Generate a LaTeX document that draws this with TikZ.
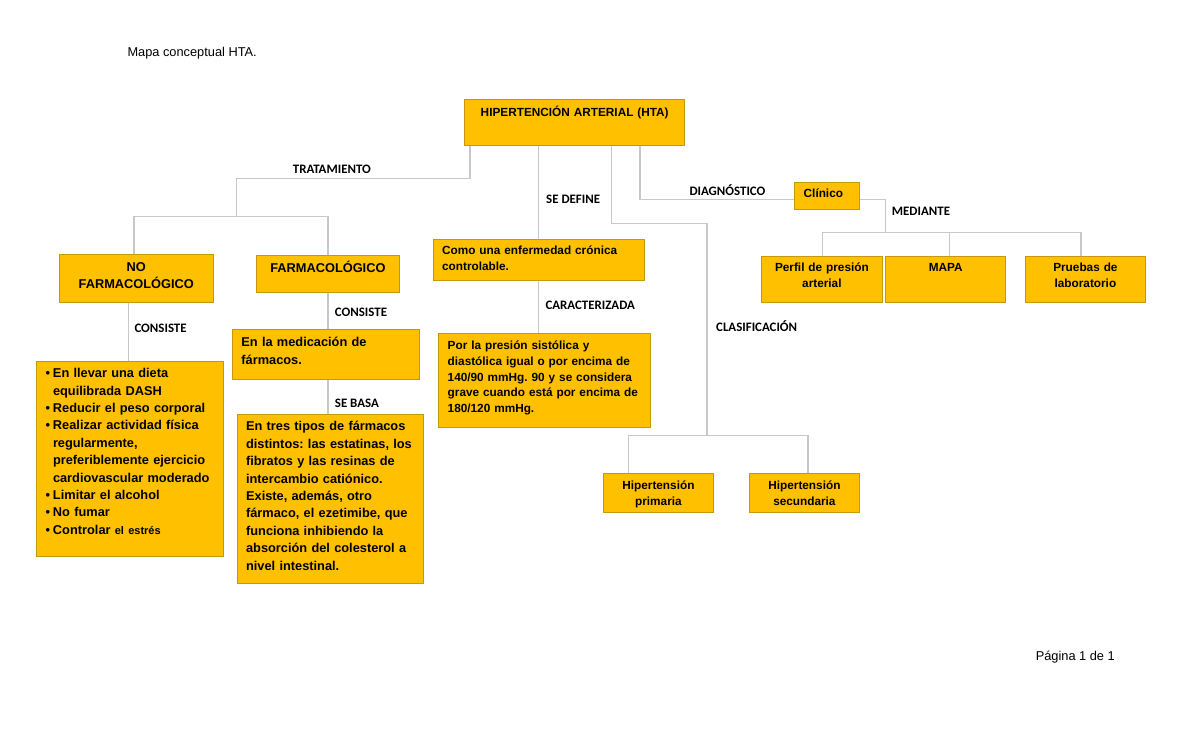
\documentclass[tikz,border=0pt]{standalone}
\usepackage{fontspec}
\usepackage{xcolor}
\usepackage{tikz}
\setmainfont{Liberation Sans}
\newfontfamily\calibri{Carlito}
\frenchspacing
\definecolor{oro}{HTML}{FFC000}
\definecolor{bordeoro}{HTML}{C49A0A}
\definecolor{gris}{HTML}{C8C8C8}
\newcommand{\grande}{\fontsize{12.8}{17.4}\selectfont\bfseries}
\newcommand{\chica}{\fontsize{11.8}{15.7}\selectfont\bfseries}
\newcommand{\vineta}{\makebox[7.3pt][l]{\textbullet}}
\newcommand{\sangria}{\hspace*{7.3pt}}
\tikzset{caja/.style={draw=bordeoro, fill=oro, line width=0.8pt, anchor=north west, inner xsep=9pt, inner ysep=0pt, align=left, font=\chica},
  medidas/.style n args={3}{text width=#1, text height=#2, text depth=#3},
  etiqueta/.style={anchor=base west, inner sep=0pt, font=\calibri\fontsize{12.9}{14}\selectfont\bfseries},
  linea/.style={draw=gris, line width=1.4pt}}

\begin{document}
\begin{tikzpicture}[x=1pt,y=-1pt]
   \useasboundingbox[fill=white] (0,0) rectangle (1200,729);
   \node[anchor=base west, inner sep=0pt, font=\fontsize{12.8}{15}\selectfont] (titulo) at (127.3,56) {Mapa conceptual HTA.};
   \node[anchor=base east, inner sep=0pt, font=\fontsize{12.8}{15}\selectfont] (pagina) at (1115,660) {Página 1 de 1};

   \node[caja, medidas={202pt}{17pt}{28.7pt}, align=center] (hta) at (464.3,99.3) {HIPERTENCIÓN ARTERIAL (HTA)};
   \node[caja, medidas={135.7pt}{16.7pt}{30.7pt}, align=center, font=\grande] (nofarma) at (59,254.3) {NO\\FARMACOLÓGICO};
   \node[caja, medidas={124.4pt}{17pt}{19.7pt}, align=center, font=\grande] (farma) at (256.3,255.3) {FARMACOLÓGICO};
   \node[caja, medidas={168.7pt}{16.2pt}{178.5pt}, font=\grande] (lista) at (36.3,361) {\vineta En llevar una dieta\\
      \sangria equilibrada DASH\\
      \vineta Reducir el peso corporal\\
      \vineta Realizar actividad física\\
      \sangria regularmente,\\
      \sangria preferiblemente ejercicio\\
      \sangria \mbox{cardiovascular moderado}\\
      \vineta Limitar el alcohol\\
      \vineta No fumar\\
      \vineta Controlar {\fontsize{11}{17.4}\selectfont el estrés}};
   \node[caja, medidas={168.7pt}{17pt}{32.4pt}, font=\grande] (medic) at (232,329.3) {En la medicación de\\fármacos.};
   \node[caja, medidas={168.3pt}{16.5pt}{152.5pt}, font=\grande] (tipos) at (236.7,414) {En tres tipos de fármacos\\\mbox{distintos: las estatinas, los}\\fibratos y las resinas de\\intercambio catiónico.\\Existe, además, otro\\\mbox{fármaco, el ezetimibe, que}\\funciona inhibiendo la\\\mbox{absorción del colesterol a}\\nivel intestinal.};
   \node[caja, medidas={193pt}{15.6pt}{25.7pt}] (como) at (432.7,238.7) {Como una enfermedad crónica\\controlable.};
   \node[caja, medidas={194pt}{16pt}{77.4pt}] (porla) at (438.3,333.3) {Por la presión sistólica y\\diastólica igual o por encima de\\140/90 mmHg. 90 y se considera\\grave cuando está por encima de\\180/120 mmHg.};
   \node[caja, medidas={92.6pt}{15.9pt}{23.1pt}, align=center] (prim) at (602.7,473.3) {Hipertensión\\primaria};
   \node[caja, medidas={92.6pt}{15.9pt}{23.1pt}, align=center] (secu) at (748.7,473.3) {Hipertensión\\secundaria};
   \node[caja, medidas={46.7pt}{15.2pt}{11.2pt}] (clinico) at (794.3,182.3) {Clínico};
   \node[caja, medidas={102.4pt}{15.8pt}{30.2pt}, align=center] (perfil) at (761.3,255.7) {Perfil de presión\\arterial};
   \node[caja, medidas={102pt}{15.8pt}{30.2pt}, align=center] (mapa) at (885.3,255.7) {MAPA};
   \node[caja, medidas={102pt}{15.8pt}{30.2pt}, align=center] (pruebas) at (1025,255.7) {Pruebas de\\laboratorio};

   \coordinate (trat) at (236.3,216.7);
   \coordinate (clas) at (707,435.3);
   \coordinate (med) at (885.3,232.7);
   \draw[linea] (hta.south -| 470,0) |- (trat |- 0,178.3) -- (trat);
   \draw[linea] (nofarma.north -| 134,0) |- (trat) -| (farma.north -| 328,0);
   \draw[linea] (nofarma.south -| 128.7,0) -- (lista.north -| 128.7,0);
   \draw[linea] (farma.south -| 328,0) -- (medic.north -| 328,0);
   \draw[linea] (medic.south -| 328,0) -- (tipos.north -| 328,0);
   \draw[linea] (hta.south -| 538.7,0) -- (como.north -| 538.7,0);
   \draw[linea] (como.south -| 538.7,0) -- (porla.north -| 538.7,0);
   \draw[linea] (hta.south -| 611.7,0) |- (clas |- 0,223.7) -- (clas);
   \draw[linea] (prim.north -| 628.3,0) |- (clas) -| (secu.north -| 808,0);
   \draw[linea] (hta.south -| 640,0) |- (clinico.west |- 0,199.3);
   \draw[linea] (clinico.east |- 0,199.3) -| (med);
   \draw[linea] (perfil.north -| 822.3,0) |- (med) -| (pruebas.north -| 1081,0);
   \draw[linea] (mapa.north -| 949.3,0) -- (med -| 949.3,0);

   \node[etiqueta] (etrat) at (292.7,173) {TRATAMIENTO};
   \node[etiqueta] (edef) at (546,203) {SE DEFINE};
   \node[etiqueta] (ediag) at (689.3,195) {DIAGNÓSTICO};
   \node[etiqueta] (emed) at (891.7,215.3) {MEDIANTE};
   \node[etiqueta] (ecar) at (545.3,309) {CARACTERIZADA};
   \node[etiqueta] (eclas) at (716,331.7) {CLASIFICACIÓN};
   \node[etiqueta] (econs) at (134.3,332.7) {CONSISTE};
   \node[etiqueta] (econsf) at (334.7,316.3) {CONSISTE};
   \node[etiqueta] (ebasa) at (334.7,407.3) {SE BASA};
\end{tikzpicture}
\end{document}
